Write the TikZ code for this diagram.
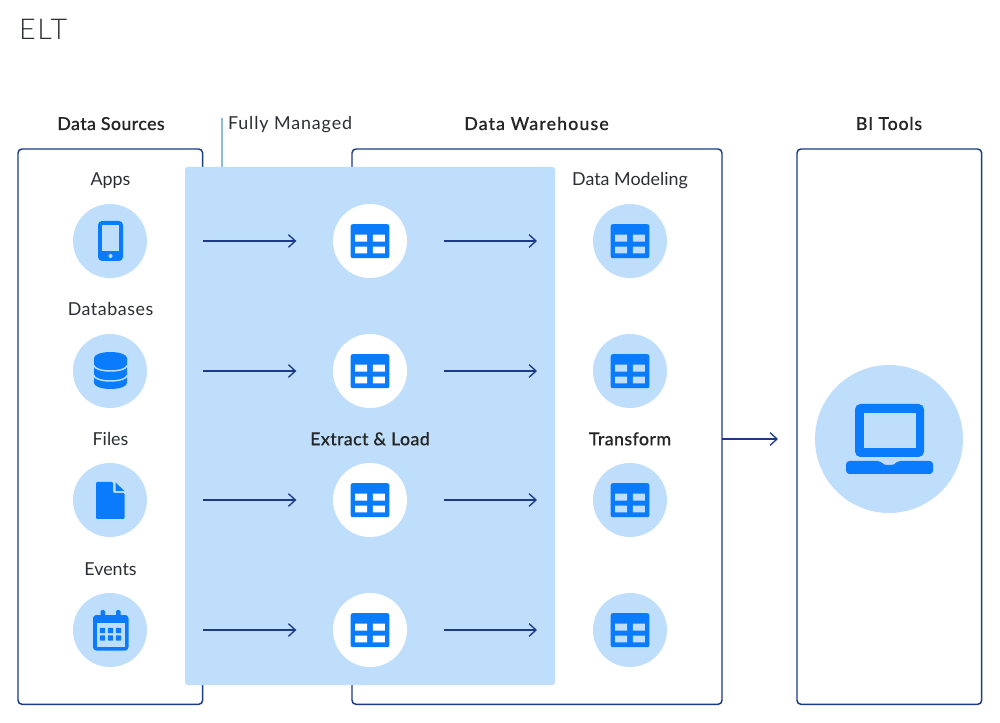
\documentclass[tikz,border=0pt]{standalone}
\usepackage{fontspec}
\setmainfont{Lato}
\newfontfamily\medfont{Lato Medium}
\newfontfamily\lightfont{Lato Light}
\definecolor{navy}{HTML}{1B3A87}
\definecolor{pale}{HTML}{BFDEFB}
\definecolor{vivid}{HTML}{0A7BFB}
\definecolor{ink}{HTML}{2B2E33}
\definecolor{tick}{HTML}{8DBBDD}
\usetikzlibrary{arrows.meta}
\tikzset{
  every node/.style={inner sep=0pt,outer sep=0pt},
  framebox/.style={draw=navy,line width=1.1pt,rounded corners=3pt,fill=white,anchor=north west},
  bubble/.style={circle,fill=pale,minimum size=55.5pt},
  whitebubble/.style={circle,fill=white,minimum size=55.5pt},
  bigbubble/.style={circle,fill=pale,minimum size=111pt},
  flow/.style={draw=navy,line width=1pt,-{Straight Barb[length=5.2pt,width=9.5pt,line width=1pt]}},
  caption/.style={text=ink,font=\fontsize{13.4pt}{15pt}\selectfont,anchor=base},
  heading/.style={text=black!85,font=\medfont\fontsize{13.4pt}{15pt}\selectfont\addfontfeatures{LetterSpace=2,FakeBold=0.15},anchor=base},
  ico/.style={fill=vivid,draw=none},
}
\newcommand{\tableicon}[3]{%
  \begin{scope}[shift={(#1,#2)}]
    \fill[ico,rounded corners=1.5pt] (-19.3,-16.8) rectangle (19.3,17.2);
    \fill[#3] (-14.8,-6.3) rectangle (-2.8,0.6) (2.8,-6.3) rectangle (14.8,0.6)
              (-14.8,5.7) rectangle (-2.8,12.4) (2.8,5.7) rectangle (14.8,12.4);
  \end{scope}}
\begin{document}
\begin{tikzpicture}[x=0.75pt,y=-0.75pt]
\useasboundingbox (0,0) rectangle (1000,723);
\fill[white] (0,0) rectangle (1000,723);

\node[anchor=base west,text=ink,font=\lightfont\fontsize{21.5pt}{24pt}\selectfont\addfontfeatures{LetterSpace=6}] (title) at (19,39.5) {ELT};

\node[heading] (hsrc) at (111,130) {Data Sources};
\node[heading,font=\medfont\fontsize{13.4pt}{15pt}\selectfont\addfontfeatures{LetterSpace=6,FakeBold=0.15}] (hwh) at (536.5,130) {Data Warehouse};
\node[heading,font=\medfont\fontsize{13.4pt}{15pt}\selectfont\addfontfeatures{LetterSpace=4,FakeBold=0.15}] (hbi) at (889,130) {BI Tools};
\node[anchor=base west,text=ink,font=\fontsize{13.4pt}{15pt}\selectfont\addfontfeatures{LetterSpace=5}] (hfm) at (228,130) {Fully Managed};

\node[framebox,minimum width=138.5pt,minimum height=416.5pt] (srcbox) at (18,149) {};
\node[framebox,minimum width=277.5pt,minimum height=416.5pt] (whbox) at (352,149) {};
\node[framebox,minimum width=138.5pt,minimum height=416.5pt] (bibox) at (797,149) {};

\coordinate (ticktop) at (222,118);
\coordinate (tickbot) at (222,167);
\draw[tick,line width=0.9pt] (ticktop) -- (tickbot);

\node[fill=pale,rounded corners=2pt,anchor=north west,minimum width=277.5pt,minimum height=388.5pt] (panel) at (185,167) {};

\foreach \n/\y in {1/241,2/371,3/500,4/630}{
  \node[bubble] (src\n) at (110,\y) {};
  \node[whitebubble] (el\n) at (370,\y) {};
  \node[bubble] (mod\n) at (630,\y) {};
  \tableicon{370}{\y}{white}
  \tableicon{630}{\y}{pale}
  \draw[flow,shorten <=42pt,shorten >=27.5pt] (src\n) -- (el\n);
  \draw[flow,shorten <=27.75pt,shorten >=42pt] (el\n) -- (mod\n);
}

\node[caption] (lapps) at (110.5,185.8) {Apps};
\node[caption,font=\fontsize{13.4pt}{15pt}\selectfont\addfontfeatures{LetterSpace=3}] (ldb) at (110.5,315.8) {Databases};
\node[caption] (lfiles) at (110.5,445.3) {Files};
\node[caption] (levents) at (110.5,575.3) {Events};
\node[caption] (lmodel) at (630,185.8) {Data Modeling};
\node[heading] (ltrans) at (630,445.3) {Transform};
\node[heading] (lextract) at (370,445.3) {Extract \& Load};

% phone
\fill[ico,rounded corners=3pt] (98,221) rectangle (123,261);
\fill[pale] (102,225.5) rectangle (119,251.5);
\fill[pale] (110.5,256) circle (2);

% database
\fill[ico] (94,358) arc[start angle=180,end angle=360,x radius=16.5,y radius=6] -- (127,383)
  arc[start angle=0,end angle=180,x radius=16.5,y radius=6] -- cycle;
\draw[pale,line width=1.1pt] (94,365.5) arc[start angle=180,end angle=0,x radius=16.5,y radius=5.5];
\draw[pale,line width=1.1pt] (94,375.5) arc[start angle=180,end angle=0,x radius=16.5,y radius=5.5];

% file
\fill[ico,rounded corners=0.8pt] (96,482) -- (113,482) -- (113,493) -- (124.5,493) -- (124.5,519) -- (96,519) -- cycle;
\fill[ico] (115.5,482.5) -- (124.5,491) -- (115.5,491) -- cycle;

% calendar
\fill[ico,rounded corners=2.5pt] (93,615) rectangle (128.5,650.5);
\fill[ico,rounded corners=1pt] (100.5,610) rectangle (105,618) (116,610) rectangle (120.5,618);
\fill[pale] (97,623) rectangle (124.5,646.5);
\foreach \a in {102.5,110.5,118.5}\foreach \b in {630.5,638}
  \fill[ico,rounded corners=0.6pt] (\a-2.7,\b-2.7) rectangle (\a+2.7,\b+2.7);

% BI circle and laptop
\node[bigbubble] (bi) at (889,439) {};
\draw[flow,shorten >=27.75pt] (whbox.east |- bi) -- (bi);
\fill[ico,rounded corners=4pt] (855,404) rectangle (924,457);
\fill[pale] (863.5,413) rectangle (916,448);
\fill[ico,rounded corners=2.5pt] (846,461) -- (881,461) -- (883,465) -- (895,465) -- (897,461) -- (933,461)
  -- (933,474) -- (846,474) -- cycle;
\end{tikzpicture}
\end{document}
